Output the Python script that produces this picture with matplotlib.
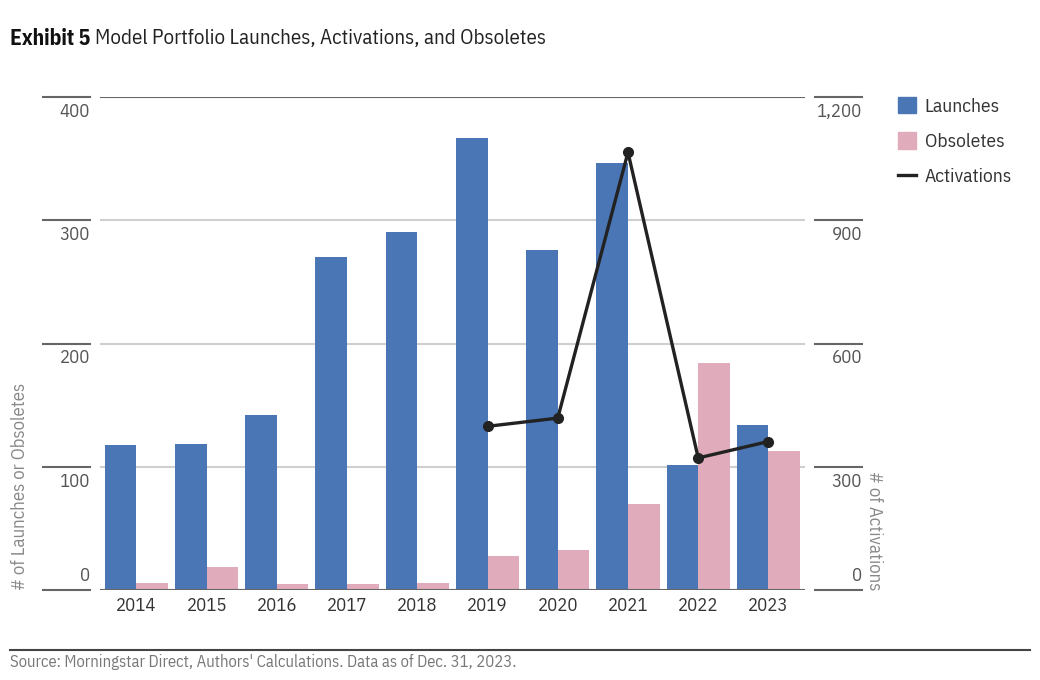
import numpy as np
import matplotlib
matplotlib.use("Agg")
import matplotlib.pyplot as plt
from matplotlib.patches import Patch
from matplotlib.lines import Line2D
from matplotlib.transforms import blended_transform_factory, offset_copy

plt.rcParams['font.family'] = ['IBM Plex Sans Condensed', 'DejaVu Sans']

years = ["2014", "2015", "2016", "2017", "2018", "2019", "2020", "2021", "2022", "2023"]
launches = [118, 119, 142, 270, 291, 367, 276, 347, 102, 134]
obsoletes = [6, 19, 5, 5, 6, 28, 33, 70, 184, 113]
activation_years = ["2019", "2020", "2021", "2022", "2023"]
activations = [399, 419, 1066, 322, 362]

left_ticks = [0, 100, 200, 300, 400]
right_ticks = [0, 300, 600, 900, 1200]

blue = "#4a76b5"
pink = "#e0abba"
dark = "#555555"
grid_c = "#cfcfcf"

fig = plt.figure(figsize=(10.4, 6.8), dpi=100)
ax = fig.add_axes([0.096, 0.132, 0.678, 0.725])
ax2 = ax.twinx()

x = np.arange(len(years))
w = 0.45
ax.bar(x - w / 2, launches, width=w, color=blue, zorder=2)
ax.bar(x + w / 2, obsoletes, width=w, color=pink, zorder=2)

ax.set_xlim(-0.52, len(years) - 0.48)
ax.set_ylim(0, 400)
ax2.set_ylim(0, 1200)

# gridlines: light in the middle, darker top and bottom
for v in left_ticks[1:-1]:
    ax.axhline(v, color=grid_c, lw=1.5, zorder=1)
ax.axhline(400, color="#666666", lw=1.5, zorder=1)
ax.axhline(0, color="#666666", lw=1.5, zorder=3)

# activations line on right axis
ax_idx = [years.index(y) for y in activation_years]
ax2.plot(ax_idx, activations, color="#222222", lw=2.4, marker="o", ms=7, zorder=4)

for a in (ax, ax2):
    for s in a.spines.values():
        s.set_visible(False)
    a.set_yticks([])
ax.set_xticks(x)
ax.set_xticklabels(years, fontsize=13.5, color="#333333")
ax.tick_params(axis="x", length=0, pad=5)

# custom y tick marks: short lines outside the plot, label below each (above for zero)
def tick_label(a, tr, xpos, v):
    if v == 0:
        a.text(xpos, v, "0", ha="right", va="bottom", fontsize=13.5, color=dark,
               transform=offset_copy(tr, fig=fig, y=4, units="points"))
    else:
        a.text(xpos, v, f"{v:,}", ha="right", va="top", fontsize=13.5, color=dark,
               transform=offset_copy(tr, fig=fig, y=-4, units="points"))

trl = blended_transform_factory(ax.transAxes, ax.transData)
for v in left_ticks:
    ax.plot([-0.081, -0.014], [v, v], color="#666666", lw=1.5, transform=trl, clip_on=False)
    tick_label(ax, trl, -0.014, v)
trr = blended_transform_factory(ax2.transAxes, ax2.transData)
for v in right_ticks:
    ax2.plot([1.014, 1.081], [v, v], color="#666666", lw=1.5, transform=trr, clip_on=False)
    tick_label(ax2, trr, 1.081, v)

fig.text(0.019, 0.132, "# of Launches or Obsoletes", rotation=90, ha="center", va="bottom",
         fontsize=13.5, color="#888888")
fig.text(0.84, 0.132, "# of Activations", rotation=270, ha="center", va="bottom",
         fontsize=13.5, color="#888888")

handles = [Patch(color=blue, label="Launches"),
           Patch(color=pink, label="Obsoletes"),
           Line2D([0], [0], color="#222222", lw=2.4, label="Activations")]
fig.legend(handles=handles, loc="upper left", bbox_to_anchor=(0.847, 0.883), frameon=False,
           fontsize=14, handlelength=0.9, handleheight=0.9, handletextpad=0.45,
           labelspacing=0.85, labelcolor="#333333")

# title: bold lead-in followed by regular text
t1 = fig.text(0.01, 0.943, "Exhibit 5", fontsize=15.5, fontweight="bold", color="#111111", va="center")
fig.canvas.draw()
bb = t1.get_window_extent().transformed(fig.transFigure.inverted())
fig.text(bb.x1 + 0.004, 0.943, "Model Portfolio Launches, Activations, and Obsoletes", fontsize=15,
         color="#222222", va="center")

fig.add_artist(Line2D([0.01, 0.99], [0.044, 0.044], color="#444444", lw=1.5))
fig.text(0.01, 0.026, "Source: Morningstar Direct, Authors' Calculations. Data as of Dec. 31, 2023.",
         fontsize=12, color="#777777", va="center")

fig.savefig("out.png", dpi=100)
